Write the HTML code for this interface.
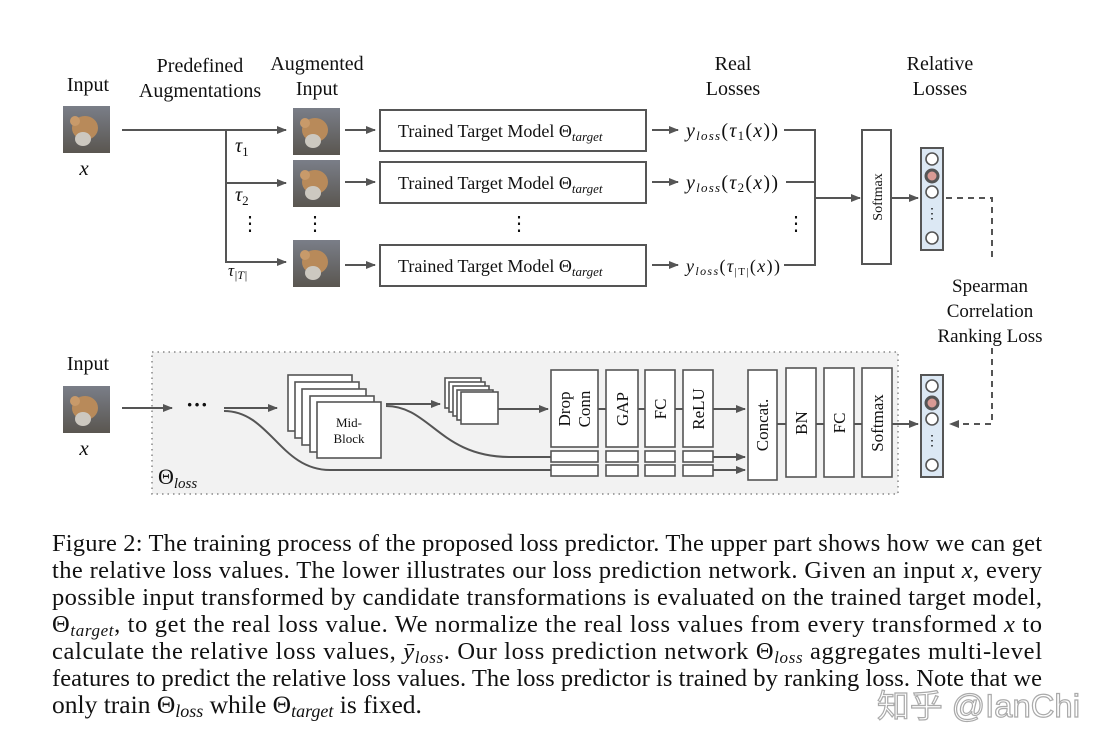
<!DOCTYPE html>
<html><head><meta charset="utf-8"><style>
html,body{margin:0;padding:0;background:#fff;}
svg{display:block;}
text{font-family:"Liberation Serif",serif;fill:#111;}
.it{font-style:italic;}
</style></head><body>
<svg width="1111" height="748" viewBox="0 0 1111 748" xmlns="http://www.w3.org/2000/svg">
<defs>
<marker id="ar" markerWidth="10" markerHeight="8" refX="9" refY="4" orient="auto" markerUnits="userSpaceOnUse"><path d="M0,0 L10,4 L0,8 z" fill="#555"/></marker>
<linearGradient id="bg" x1="0" y1="0" x2="0" y2="1"><stop offset="0" stop-color="#7a7e88"/><stop offset="1" stop-color="#5a5650"/></linearGradient>
<g id="dog"><rect width="47" height="47" fill="url(#bg)"/><ellipse cx="22" cy="22" rx="13" ry="12" fill="#b88a5a"/><ellipse cx="20" cy="33" rx="8" ry="7" fill="#ccc8c0"/><ellipse cx="12" cy="15" rx="5" ry="5" fill="#c89a6a"/></g>
</defs>
<g stroke="#555" stroke-width="2" fill="none">
<line x1="122" y1="130" x2="286" y2="130" marker-end="url(#ar)"/>
<polyline points="226,130 226,262 286,262" marker-end="url(#ar)"/>
<line x1="226" y1="183" x2="286" y2="183" marker-end="url(#ar)"/>
<line x1="345" y1="130" x2="375" y2="130" marker-end="url(#ar)"/>
<line x1="345" y1="182" x2="375" y2="182" marker-end="url(#ar)"/>
<line x1="345" y1="265" x2="375" y2="265" marker-end="url(#ar)"/>
<line x1="652" y1="130" x2="678" y2="130" marker-end="url(#ar)"/>
<line x1="652" y1="182" x2="678" y2="182" marker-end="url(#ar)"/>
<line x1="652" y1="265" x2="678" y2="265" marker-end="url(#ar)"/>
<polyline points="784,130 815,130 815,265 784,265"/>
<line x1="786" y1="182" x2="815" y2="182"/>
<line x1="815" y1="198" x2="860" y2="198" marker-end="url(#ar)"/>
<line x1="892" y1="198" x2="918" y2="198" marker-end="url(#ar)"/>
</g>
<polyline points="946,198 992,198 992,262" stroke="#555" stroke-width="2" fill="none" stroke-dasharray="6,5"/>
<polyline points="992,348 992,424 950,424" stroke="#555" stroke-width="2" fill="none" stroke-dasharray="6,5" marker-end="url(#ar)"/>
<use href="#dog" x="63" y="106"/>
<use href="#dog" x="293" y="108"/>
<use href="#dog" x="293" y="160"/>
<use href="#dog" x="293" y="240"/>
<g fill="#fff" stroke="#555" stroke-width="2">
<rect x="380" y="110" width="266" height="41"/>
<rect x="380" y="162" width="266" height="41"/>
<rect x="380" y="245" width="266" height="41"/>
<rect x="862" y="130" width="29" height="134"/>
<rect x="921" y="148" width="22" height="102" fill="#dce8f4"/>
</g>
<g stroke="#555" stroke-width="1.6" fill="#fff">
<circle cx="932" cy="159" r="6"/><circle cx="932" cy="176" r="6" fill="#d99a94" stroke-width="3"/><circle cx="932" cy="192" r="6"/><circle cx="932" cy="238" r="6"/>
</g>
<text x="932" y="218" font-size="14" text-anchor="middle">⋮</text>
<text x="88" y="91" font-size="20" text-anchor="middle">Input</text>
<text x="84" y="175" font-size="21" text-anchor="middle" class="it">x</text>
<text x="200" y="72" font-size="20" text-anchor="middle">Predefined</text>
<text x="200" y="97" font-size="20" text-anchor="middle">Augmentations</text>
<text x="317" y="70" font-size="20" text-anchor="middle">Augmented</text>
<text x="317" y="95" font-size="20" text-anchor="middle">Input</text>
<text x="235" y="152" font-size="20" class="it">τ<tspan font-size="13" font-style="normal" dy="4">1</tspan></text>
<text x="235" y="201" font-size="20" class="it">τ<tspan font-size="13" font-style="normal" dy="4">2</tspan></text>
<text x="250" y="230" font-size="20" text-anchor="middle">⋮</text>
<text x="228" y="276" font-size="17" class="it">τ<tspan font-size="12" dy="3">|T|</tspan></text>
<text x="315" y="230" font-size="20" text-anchor="middle">⋮</text>
<text x="519" y="230" font-size="20" text-anchor="middle">⋮</text>
<text x="796" y="230" font-size="20" text-anchor="middle">⋮</text>
<g font-size="18">
<text x="398" y="137">Trained Target Model  Θ<tspan class="it" font-size="13" dy="4">target</tspan></text>
<text x="398" y="189">Trained Target Model  Θ<tspan class="it" font-size="13" dy="4">target</tspan></text>
<text x="398" y="272">Trained Target Model  Θ<tspan class="it" font-size="13" dy="4">target</tspan></text>
</g>
<text x="733" y="70" font-size="20" text-anchor="middle">Real</text>
<text x="733" y="95" font-size="20" text-anchor="middle">Losses</text>
<text x="940" y="70" font-size="20" text-anchor="middle">Relative</text>
<text x="940" y="95" font-size="20" text-anchor="middle">Losses</text>
<text x="686" y="137" font-size="20" textLength="92" lengthAdjust="spacing"><tspan class="it">y</tspan><tspan class="it" font-size="13" dy="3">loss</tspan><tspan dy="-3">(</tspan><tspan class="it">τ</tspan><tspan font-size="13" dy="3">1</tspan><tspan dy="-3">(</tspan><tspan class="it">x</tspan>))</text>
<text x="686" y="189" font-size="20" textLength="92" lengthAdjust="spacing"><tspan class="it">y</tspan><tspan class="it" font-size="13" dy="3">loss</tspan><tspan dy="-3">(</tspan><tspan class="it">τ</tspan><tspan font-size="13" dy="3">2</tspan><tspan dy="-3">(</tspan><tspan class="it">x</tspan>))</text>
<text x="686" y="272" font-size="18" textLength="94" lengthAdjust="spacing"><tspan class="it">y</tspan><tspan class="it" font-size="12" dy="3">loss</tspan><tspan dy="-3">(</tspan><tspan class="it">τ</tspan><tspan font-size="11" dy="3">|T|</tspan><tspan dy="-3">(</tspan><tspan class="it">x</tspan>))</text>
<text transform="translate(882,197) rotate(-90)" font-size="14" text-anchor="middle">Softmax</text>
<text x="990" y="292" font-size="19" text-anchor="middle">Spearman</text>
<text x="990" y="317" font-size="19" text-anchor="middle">Correlation</text>
<text x="990" y="342" font-size="19" text-anchor="middle">Ranking Loss</text>

<rect x="152" y="352" width="746" height="142" fill="#f2f2f2" stroke="#888" stroke-width="1.5" stroke-dasharray="1.5,4"/>
<use href="#dog" x="63" y="386"/>
<text x="88" y="370" font-size="20" text-anchor="middle">Input</text>
<text x="84" y="455" font-size="21" text-anchor="middle" class="it">x</text>
<text x="197" y="412" font-size="22" text-anchor="middle" font-weight="bold">···</text>
<g stroke="#555" stroke-width="2" fill="none">
<line x1="122" y1="408" x2="172" y2="408" marker-end="url(#ar)"/>
<line x1="224" y1="408" x2="277" y2="408" marker-end="url(#ar)"/>
<path d="M224,411 C270,411 280,470 330,470 L552,470"/>
<path d="M386,406 C430,406 440,457 510,457 L552,457"/>
<line x1="386" y1="404" x2="440" y2="404" marker-end="url(#ar)"/>
<line x1="498" y1="409" x2="548" y2="409" marker-end="url(#ar)"/>
<line x1="713" y1="409" x2="745" y2="409" marker-end="url(#ar)"/>
<line x1="713" y1="457" x2="745" y2="457" marker-end="url(#ar)"/>
<line x1="713" y1="470" x2="745" y2="470" marker-end="url(#ar)"/>
<line x1="598" y1="409" x2="606" y2="409"/><line x1="638" y1="409" x2="645" y2="409"/><line x1="675" y1="409" x2="683" y2="409"/>
<line x1="777" y1="424" x2="786" y2="424"/><line x1="816" y1="424" x2="824" y2="424"/><line x1="854" y1="424" x2="862" y2="424"/>
<line x1="892" y1="424" x2="918" y2="424" marker-end="url(#ar)"/>
</g>
<g fill="#fff" stroke="#555" stroke-width="1.6">
<rect x="288" y="375" width="64" height="56"/><rect x="295" y="382" width="64" height="56"/><rect x="302" y="389" width="64" height="56"/><rect x="310" y="396" width="64" height="56"/><rect x="317" y="402" width="64" height="56"/>
<rect x="445" y="378" width="36" height="30"/><rect x="449" y="382" width="36" height="30"/><rect x="453" y="386" width="36" height="30"/><rect x="457" y="390" width="36" height="30"/><rect x="461" y="392" width="37" height="32"/>
<rect x="551" y="370" width="47" height="77"/><rect x="606" y="370" width="32" height="77"/><rect x="645" y="370" width="30" height="77"/><rect x="683" y="370" width="30" height="77"/>
<rect x="551" y="451" width="47" height="11"/><rect x="606" y="451" width="32" height="11"/><rect x="645" y="451" width="30" height="11"/><rect x="683" y="451" width="30" height="11"/>
<rect x="551" y="465" width="47" height="11"/><rect x="606" y="465" width="32" height="11"/><rect x="645" y="465" width="30" height="11"/><rect x="683" y="465" width="30" height="11"/>
<rect x="748" y="370" width="29" height="110"/><rect x="786" y="368" width="30" height="109"/><rect x="824" y="368" width="30" height="109"/><rect x="862" y="368" width="30" height="109"/>
<rect x="921" y="375" width="22" height="102" fill="#dce8f4" stroke-width="2"/>
</g>
<g stroke="#555" stroke-width="1.6" fill="#fff">
<circle cx="932" cy="386" r="6"/><circle cx="932" cy="403" r="6" fill="#d99a94" stroke-width="3"/><circle cx="932" cy="419" r="6"/><circle cx="932" cy="465" r="6"/>
</g>
<text x="932" y="445" font-size="14" text-anchor="middle">⋮</text>
<text x="349" y="427" font-size="13" text-anchor="middle">Mid-</text>
<text x="349" y="443" font-size="13" text-anchor="middle">Block</text>
<g font-size="17" text-anchor="middle">
<text transform="translate(570,409) rotate(-90)">Drop</text>
<text transform="translate(590,409) rotate(-90)">Conn</text>
<text transform="translate(628,409) rotate(-90)">GAP</text>
<text transform="translate(666,409) rotate(-90)">FC</text>
<text transform="translate(704,409) rotate(-90)">ReLU</text>
<text transform="translate(768,425) rotate(-90)">Concat.</text>
<text transform="translate(807,423) rotate(-90)">BN</text>
<text transform="translate(845,423) rotate(-90)">FC</text>
<text transform="translate(883,423) rotate(-90)">Softmax</text>
</g>
<text x="158" y="484" font-size="22">Θ<tspan class="it" font-size="15" dy="4">loss</tspan></text>

<g font-size="24.5">
<text x="52" y="551" textLength="990" lengthAdjust="spacing">Figure 2: The training process of the proposed loss predictor. The upper part shows how we can get</text>
<text x="52" y="578" textLength="990" lengthAdjust="spacing">the relative loss values. The lower illustrates our loss prediction network. Given an input <tspan class="it">x</tspan>, every</text>
<text x="52" y="605" textLength="990" lengthAdjust="spacing">possible input transformed by candidate transformations is evaluated on the trained target model,</text>
<text x="52" y="632" textLength="990" lengthAdjust="spacing">Θ<tspan class="it" font-size="17" dy="4">target</tspan><tspan dy="-4">, to get the real loss value. We normalize the real loss values from every transformed </tspan><tspan class="it">x</tspan> to</text>
<text x="52" y="659" textLength="990" lengthAdjust="spacing">calculate the relative loss values, <tspan class="it">ȳ</tspan><tspan class="it" font-size="17" dy="4">loss</tspan><tspan dy="-4">. Our loss prediction network Θ</tspan><tspan class="it" font-size="17" dy="4">loss</tspan><tspan dy="-4"> aggregates multi-level</tspan></text>
<text x="52" y="686" textLength="990" lengthAdjust="spacing">features to predict the relative loss values. The loss predictor is trained by ranking loss. Note that we</text>
<text x="52" y="713" font-size="25.5">only train Θ<tspan class="it" font-size="18" dy="4">loss</tspan><tspan dy="-4"> while Θ</tspan><tspan class="it" font-size="18" dy="4">target</tspan><tspan dy="-4"> is fixed.</tspan></text>
</g>
<text x="877" y="717" font-size="32" textLength="203" lengthAdjust="spacingAndGlyphs" style="font-family:'Liberation Sans','Noto Sans CJK SC',sans-serif;fill:#fff;stroke:#aaa;stroke-width:1.2">知乎 @IanChi</text>
</svg>
</body></html>
